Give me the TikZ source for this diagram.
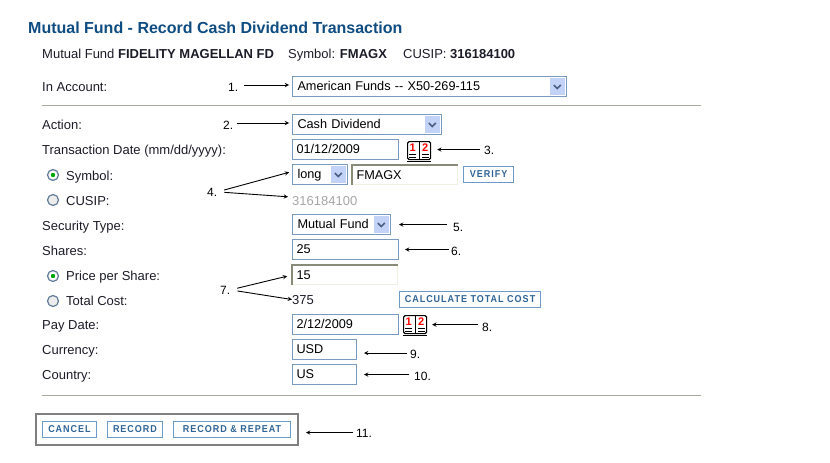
\documentclass[tikz,border=0pt]{standalone}
\usepackage{fontspec}
\setmainfont{Liberation Sans}
\newfontfamily\btnfont[LetterSpace=10,FakeStretch=0.9]{Liberation Sans}
\usetikzlibrary{arrows}
\definecolor{titleblue}{HTML}{0F4C81}
\definecolor{fieldedge}{HTML}{7A9BBF}
\definecolor{btnedge}{HTML}{6C9BCB}
\definecolor{btntext}{HTML}{2F6496}
\definecolor{dropfill}{HTML}{C3D3F7}
\definecolor{dropmark}{HTML}{4A5F85}
\definecolor{rulegray}{HTML}{A8A89C}
\definecolor{inktext}{HTML}{1C1C28}
\definecolor{sunkedge}{HTML}{8A8A78}
\definecolor{sunkpale}{HTML}{F0F0E2}
\newcommand{\lbl}[4]{\node[lbl] (#1) at (#2,#3) {#4}; }
\newcommand{\fld}[6]{\node[fieldbox,minimum width=#4pt-1pt,minimum height=#5pt-1pt,text width=#4pt-9pt] (#1) at (#2,#3) {#6}; }
\newcommand{\snk}[6]{\node[fieldbox,draw=sunkpale,minimum width=#4pt-1pt,minimum height=#5pt-1pt,text width=#4pt-9pt] (#1) at (#2,#3) {#6};
  \draw[sunkedge,line width=1.2pt] (#1.south west) -- (#1.north west) -- (#1.north east); }
\newcommand{\sel}[6]{\node[fieldbox,inner xsep=5pt,minimum width=#4pt-1pt,minimum height=#5pt-1pt,text width=#4pt-11pt] (#1) at (#2,#3) {#6};
  \node[dropbtn,xshift=-2pt] (#1btn) at (#1.east) {};
  \draw[dropmark,line width=1.5pt] (#1btn.center) ++(-3.5,-1.5) -- ++(3.5,3.5) -- ++(3.5,-3.5); }
\newcommand{\btn}[5]{\node[btnbox,minimum width=#4pt-1pt] (#1) at (#2,#3) {#5}; }
\newcommand{\rad}[4]{\node[radio] (#1) at (#2,#3) {};
  \ifnum#4=1 \fill[white] (#1.center) circle (4); \fill[green!65!black] (#1.center) circle (2.2); \fi }
\newcommand{\cale}[3]{\node[calbox] (#1) at (#2,#3) {};
  \draw[line width=1.4pt] ([yshift=-1pt]#1.south west) -- ([yshift=-1pt]#1.south east);
  \draw[line width=1pt] (#1.north) -- (#1.south);
  \node[caldigit] (#1a) at ([xshift=-6.5pt,yshift=3pt]#1.center) {1};
  \node[caldigit] (#1b) at ([xshift=6pt,yshift=3pt]#1.center) {2};
  \draw[line width=.7pt] ([xshift=-10pt,yshift=-4pt]#1.center) -- ++(7,0) ([xshift=-10pt,yshift=-6.5pt]#1.center) -- ++(7,0)
    ([xshift=3pt,yshift=-4pt]#1.center) -- ++(7,0) ([xshift=3pt,yshift=-6.5pt]#1.center) -- ++(7,0); }
\begin{document}
\begin{tikzpicture}[x=1pt,y=-1pt,font=\fontsize{13}{15}\selectfont,
  lbl/.style={anchor=base west,inner sep=0pt,text=inktext},
  num/.style={anchor=base west,inner sep=0pt,text=black,font=\fontsize{12}{14}\selectfont},
  fieldbox/.style={draw=fieldedge,line width=1pt,fill=white,anchor=north west,inner xsep=4pt,inner ysep=0pt,text height=8.5pt,text depth=0pt,align=left,text=black,font=\fontsize{12.7}{14}\selectfont},
  dropbtn/.style={fill=dropfill,anchor=east,minimum width=15pt,minimum height=17pt,inner sep=0pt},
  btnbox/.style={draw=btnedge,line width=1pt,fill=white,anchor=north west,minimum height=16pt,inner sep=0pt,text=btntext,font=\btnfont\bfseries\fontsize{10}{11}\selectfont},
  radio/.style={circle,draw=fieldedge!80!black,line width=1.2pt,fill=gray!15,minimum size=11pt,inner sep=0pt},
  calbox/.style={draw=black,line width=1.2pt,fill=white,rounded corners=1.5pt,anchor=north west,minimum width=23pt,minimum height=18pt,inner sep=0pt},
  caldigit/.style={inner sep=0pt,text=red,font=\bfseries\fontsize{11}{11}\selectfont},
  ptr/.style={->,>=stealth,line width=.9pt,black},
  hrule/.style={rulegray,line width=1pt}]
  \useasboundingbox (0,0) rectangle (830,463);
  \node[lbl,text=titleblue,font=\bfseries\fontsize{16}{18}\selectfont] (title) at (28,34) {Mutual Fund - Record Cash Dividend Transaction};
  \lbl{fund}{42}{58}{Mutual Fund \textbf{FIDELITY MAGELLAN FD}}
  \lbl{sym}{288}{58}{Symbol: \textbf{FMAGX}}
  \lbl{cusip}{403}{58}{CUSIP: \textbf{316184100}}
  \lbl{acctlbl}{42}{91}{In Account:}
  \sel{acct}{292}{76}{275}{21}{American Funds -{}- X50-269-115}
  \coordinate (ruletopa) at (42,105);
  \coordinate (ruletopb) at (701,105);
  \draw[hrule] (ruletopa) -- (ruletopb);
  \lbl{actlbl}{42}{129}{Action:}
  \sel{act}{292}{114}{150}{21}{Cash Dividend}
  \lbl{datelbl}{42}{154}{Transaction Date (mm/dd/yyyy):}
  \fld{date}{292}{139}{107}{21}{01/12/2009}
  \cale{calone}{407}{141}
  \rad{radsym}{53}{175}{1}
  \lbl{symlbl}{66}{180}{Symbol:}
  \sel{long}{292}{164}{56}{21}{long}
  \snk{ticker}{352}{165}{106}{20}{FMAGX}
  \btn{verify}{463}{166}{51}{VERIFY}
  \rad{radcus}{53}{200}{0}
  \lbl{cuslbl}{66}{205}{CUSIP:}
  \node[lbl,text=gray!70] (cusval) at (292,205) {316184100};
  \lbl{typelbl}{42}{230}{Security Type:}
  \sel{sectype}{292}{214}{99}{21}{Mutual Fund}
  \lbl{shlbl}{42}{255}{Shares:}
  \fld{shares}{292}{239}{107}{21}{25}
  \rad{radpps}{53}{276}{1}
  \lbl{ppslbl}{66}{280}{Price per Share:}
  \snk{price}{292}{265}{106}{20}{15}
  \rad{radtot}{53}{301}{0}
  \lbl{totlbl}{66}{305}{Total Cost:}
  \lbl{totval}{292}{304}{375}
  \btn{calc}{399}{291}{142}{CALCULATE TOTAL COST}
  \lbl{paylbl}{42}{329}{Pay Date:}
  \fld{pay}{292}{314}{107}{21}{2/12/2009}
  \cale{caltwo}{403}{315}
  \lbl{curlbl}{42}{354}{Currency:}
  \fld{cur}{292}{339}{65}{21}{USD}
  \lbl{ctrylbl}{42}{379}{Country:}
  \fld{ctry}{292}{364}{65}{21}{US}
  \coordinate (rulebota) at (42,395);
  \coordinate (rulebotb) at (701,395);
  \draw[hrule] (rulebota) -- (rulebotb);
  \node[draw=gray,line width=2pt,anchor=north west,minimum width=262pt,minimum height=31pt,inner sep=0pt] (group) at (35,413) {};
  \btn{cancel}{42}{421}{55}{CANCEL}
  \btn{record}{107}{421}{56}{RECORD}
  \btn{repeat}{173}{421}{118}{RECORD \& REPEAT}
  \node[num] (n1) at (228,91) {1.};
  \node[num] (n2) at (223,129) {2.};
  \node[num] (n3) at (484,154) {3.};
  \node[num] (n4) at (207,196) {4.};
  \node[num] (n5) at (453,231) {5.};
  \node[num] (n6) at (451,255) {6.};
  \node[num] (n7) at (220,294) {7.};
  \node[num] (n8) at (482,331) {8.};
  \node[num] (n9) at (410,358) {9.};
  \node[num] (n10) at (414,380) {10.};
  \node[num] (n11) at (356,437) {11.};
  \draw[ptr,shorten <=6pt,shorten >=3pt] ([yshift=1.5pt]n1.east |- acct.west) -- ([yshift=1.5pt]acct.west);
  \draw[ptr,shorten <=4pt,shorten >=3pt] ([yshift=1.5pt]n2.east |- act.west) -- ([yshift=1.5pt]act.west);
  \draw[ptr,shorten <=4pt,shorten >=6pt] ([yshift=1pt]n3.west |- calone.east) -- ([yshift=1pt]calone.east);
  \draw[ptr,shorten <=7pt,shorten >=3pt] (n4.east) -- ([yshift=3pt]long.west);
  \draw[ptr,shorten <=7pt,shorten >=3pt] (n4.east) -- ([yshift=-12pt,xshift=-1pt]long.south west);
  \draw[ptr,shorten <=6pt,shorten >=8pt] (n5.west |- sectype.east) -- (sectype.east);
  \draw[ptr,shorten <=2pt,shorten >=6pt] (n6.west |- shares.east) -- (shares.east);
  \draw[ptr,shorten <=7pt,shorten >=5pt] (n7.east) -- (price.west);
  \draw[ptr,shorten <=7pt] (n7.east) -- (totval.west);
  \draw[ptr,shorten <=4pt,shorten >=5pt] (n8.west |- caltwo.east) -- (caltwo.east);
  \draw[ptr,shorten <=3pt,shorten >=7pt] ([yshift=-3.5pt]n9.west |- cur.east) -- ([yshift=-3.5pt]cur.east);
  \draw[ptr,shorten <=5pt,shorten >=7pt] (n10.west |- ctry.east) -- (ctry.east);
  \draw[ptr,shorten <=3pt,shorten >=7pt] ([yshift=-3pt]n11.west |- group.east) -- ([yshift=-3pt]group.east);
\end{tikzpicture}
\end{document}
